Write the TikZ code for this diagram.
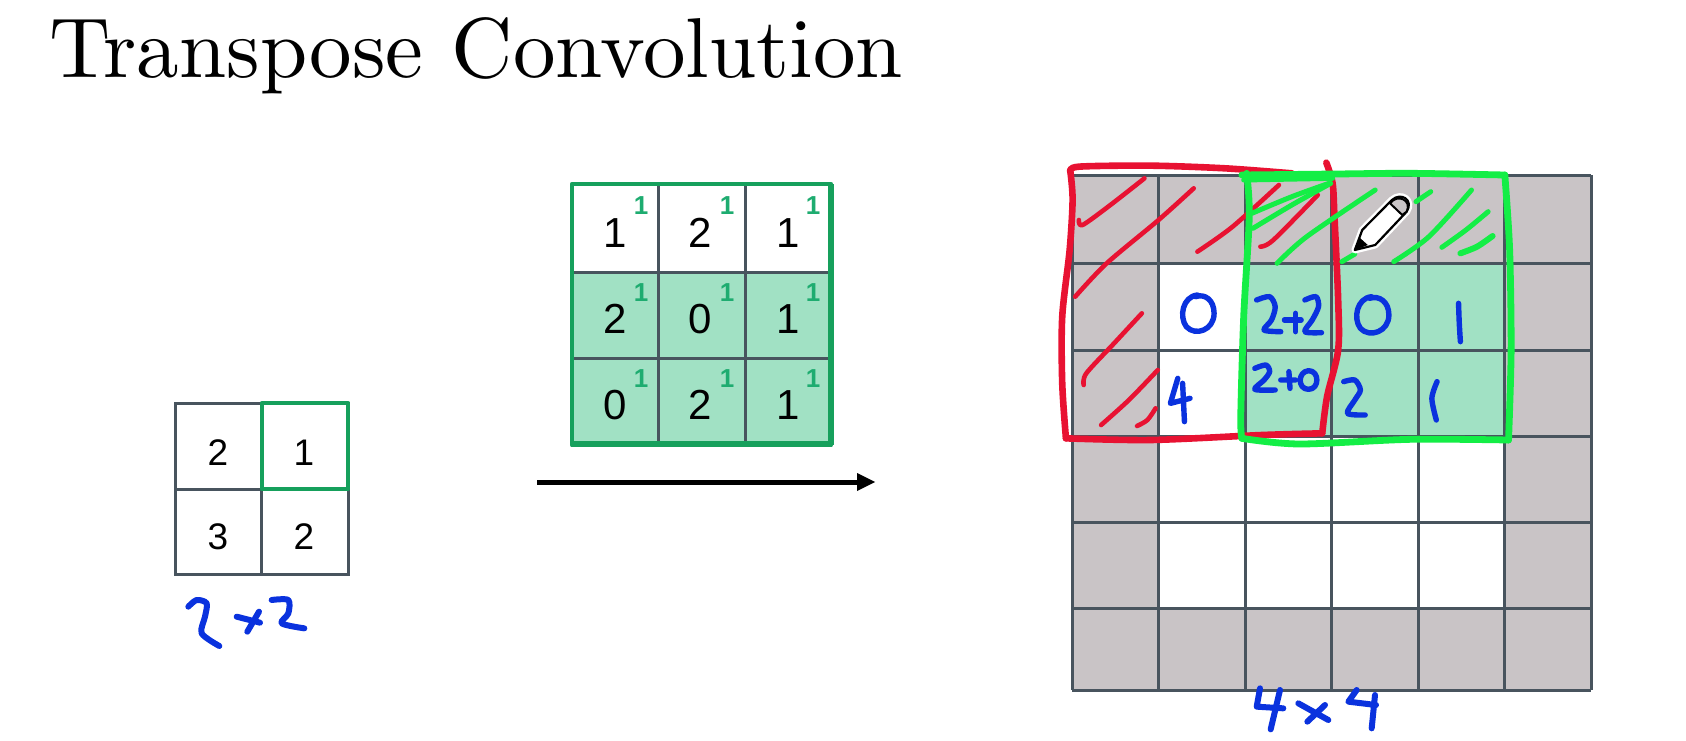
\documentclass[tikz,border=0pt]{standalone}
\usepackage{fontspec}
\setmainfont{Latin Modern Roman}
\newfontfamily\titlef{lmroman10-regular}[Extension=.otf]
\newfontfamily\arialf{Liberation Sans}
\definecolor{gridc}{RGB}{72,84,94}
\definecolor{greyc}{RGB}{201,196,198}
\definecolor{tealc}{RGB}{161,225,196}
\definecolor{boxg}{RGB}{22,160,92}
\definecolor{smallg}{RGB}{30,172,112}
\definecolor{inkb}{RGB}{10,50,222}
\definecolor{inkr}{RGB}{232,18,50}
\definecolor{inkg}{RGB}{20,238,70}
\tikzset{
  x=1pt,y=-1pt,
  gridline/.style={draw=gridc,line width=3pt},
  ink/.style={line width=#1,line cap=round,line join=round},
  blueink/.style={ink=5.4pt,draw=inkb},
  redink/.style={ink=4.6pt,draw=inkr},
  greenink/.style={ink=5pt,draw=inkg},
  bigd/.style={font=\arialf\fontsize{42}{42}\selectfont,text=black,inner sep=0pt},
  midd/.style={font=\arialf\fontsize{37}{37}\selectfont,text=black,inner sep=0pt},
  smalld/.style={font=\arialf\bfseries\fontsize{26}{26}\selectfont,text=smallg,inner sep=0pt},
  zoomA/.style={shift={(1040,150)},x=0.37037pt,y=-0.33333pt},
  zoomT/.style={x=0.33333pt,y=-0.33333pt},
}
\begin{document}
\begin{tikzpicture}
\useasboundingbox (0,0) rectangle (1686,741);
\fill[white] (0,0) rectangle (1686,741);
\node[anchor=base west,inner sep=0pt,font=\titlef\fontsize{85}{90}\selectfont] (title) at (49,78) {Transpose Convolution};

% left 2x2 grid
\draw[gridline] (175,403) rectangle (348,574);
\draw[gridline] (261,403) -- (261,574);
\draw[gridline] (175,489) -- (348,489);
\draw[draw=boxg,line width=4.8pt,line join=round] (262,403) rectangle (348,489);
\node[midd] (a1) at (218,453) {2};
\node[midd] (a2) at (304,453) {1};
\node[midd] (a3) at (218,537) {3};
\node[midd] (a4) at (304,537) {2};

% middle 3x3 kernel
\fill[tealc] (572,272) rectangle (832,445);
\draw[gridline] (658.5,184) -- (658.5,445) (745,184) -- (745,445) (572,272) -- (832,272) (572,358.5) -- (832,358.5);
\draw[draw=boxg,line width=4.4pt,line join=round] (572,184) rectangle (831,445);
\draw[draw=boxg,line width=6pt] (571,444) -- (832,444);
\draw[draw=boxg,line width=5.5pt] (831,184) -- (831,445);
\node[bigd] (k11) at (615,233) {1};
\node[bigd] (k12) at (700,233) {2};
\node[bigd] (k13) at (788,233) {1};
\node[bigd] (k21) at (615,319) {2};
\node[bigd] (k22) at (700,319) {0};
\node[bigd] (k23) at (788,319) {1};
\node[bigd] (k31) at (615,405) {0};
\node[bigd] (k32) at (700,405) {2};
\node[bigd] (k33) at (788,405) {1};
\foreach \nx/\cx in {a/641,b/727,c/813}{
  \foreach \ny/\cy in {a/206,b/293,c/379}{
    \node[smalld] (s\nx\ny) at (\cx,\cy) {1};
  }
}

% arrow
\coordinate (arrS) at (537,482);
\coordinate (arrE) at (875,482);
\draw[line width=5pt] (arrS) -- (860,482);
\fill (arrE) -- (857,473) -- (857,491) -- cycle;

% right grid
\fill[greyc] (1072,175) rectangle (1591,690);
\fill[white] (1158.5,263) rectangle (1504.5,608.5);
\fill[tealc] (1245,263) rectangle (1504.5,436.5);
\foreach \gx in {1072,1158.5,1245,1331.5,1418,1504.5,1591}{\draw[gridline] (\gx,175) -- (\gx,690);}
\foreach \gy in {175,263,350,436.5,522.5,608.5,690}{\draw[gridline] (1072,\gy) -- (1591,\gy);}

\begin{scope}[zoomA]
% red hatches
\draw[redink] plot[smooth] coordinates {(105,210) (115,225) (190,165) (282,85)};
\draw[redink] plot[smooth] coordinates {(95,440) (180,340) (320,210) (415,115)};
\draw[redink] plot[smooth] coordinates {(425,305) (520,230) (645,105)};
\draw[redink] plot[smooth] coordinates {(595,290) (630,270) (750,135)};
\draw[redink] plot[smooth] coordinates {(275,490) (200,580) (125,670) (118,705)};
\draw[redink] plot[smooth] coordinates {(165,825) (240,750) (318,660)};
\draw[redink] plot[smooth] coordinates {(262,828) (290,810) (312,775)};
% red outline, side by side
\begin{scope}[redink,line width=6.6pt]
\draw plot[smooth] coordinates {(680,70) (500,55) (300,47) (105,50) (82,65)};
\draw plot[smooth] coordinates {(82,65) (88,150) (80,300) (60,500) (60,700) (70,865)};
\draw plot[smooth] coordinates {(70,865) (300,870) (600,855) (762,850)};
\draw plot[smooth] coordinates {(762,850) (775,740) (805,600) (805,450) (795,200) (790,100) (773,38)};
\end{scope}
% green hatches
\draw[greenink] plot[smooth] coordinates {(575,235) (680,165) (785,100)};
\draw[greenink] plot[smooth] coordinates {(572,190) (680,140) (780,100)};
\draw[greenink] plot[smooth] coordinates {(640,340) (720,260) (905,120)};
\draw[greenink] plot[smooth] coordinates {(815,335) (850,312)};
\draw[greenink] plot[smooth] coordinates {(1015,155) (1055,125)};
\draw[greenink] plot[smooth] coordinates {(955,335) (1050,260) (1165,120)};
\draw[greenink] plot[smooth] coordinates {(1085,292) (1150,240) (1210,185)};
\draw[greenink,line width=6pt] plot[smooth] coordinates {(1135,310) (1180,290) (1222,258)};
% green outline, side by side
\begin{scope}[greenink,line width=6.8pt]
\draw plot[smooth] coordinates {(545,75) (800,72) (1000,70) (1255,75)};
\draw plot[smooth] coordinates {(1255,75) (1268,300) (1272,600) (1265,870)};
\draw plot[smooth] coordinates {(1265,870) (1000,868) (700,882) (545,865)};
\draw plot[smooth] coordinates {(545,865) (542,800) (550,500) (565,200) (558,70)};
\draw[line width=5pt] (550,90) -- (790,85);
\end{scope}
% blue writing
\draw[blueink] (425,435) .. controls (385,440) and (375,500) .. (395,530) .. controls (420,560) and (470,540) .. (470,490) .. controls (470,450) and (445,430) .. (420,440);
\draw[blueink] plot[smooth] coordinates {(585,450) (620,440) (635,470) (625,510) (605,540) (650,545)};
\draw[blueink] (660,510) -- (705,510) (690,490) -- (690,545);
\draw[blueink] plot[smooth] coordinates {(715,450) (745,440) (752,470) (735,510) (715,545) (760,548)};
\draw[blueink] (895,440) .. controls (855,445) and (845,505) .. (865,535) .. controls (890,565) and (942,545) .. (942,495) .. controls (942,455) and (915,435) .. (890,445);
\draw[blueink] plot[smooth] coordinates {(1130,460) (1132,520) (1135,575)};
\draw[blueink] plot[smooth] coordinates {(580,655) (610,645) (620,665) (605,690) (580,718) (635,720)};
\draw[blueink] (650,690) -- (690,690) (672,665) -- (675,715);
\draw[blueink] (725,662) .. controls (695,665) and (695,718) .. (725,718) .. controls (755,718) and (755,662) .. (725,662);
\draw[blueink] (372,685) -- (352,760) -- (405,745) (385,700) -- (390,815);
\draw[blueink] plot[smooth] coordinates {(820,695) (850,690) (865,720) (850,750) (830,790) (878,795)};
\draw[blueink] plot[smooth] coordinates {(1072,695) (1058,745) (1070,810)};
% pencil cursor
\path[draw=white,line width=7pt,line join=round,fill=white] (850,300) -- (870,240) -- (950,150) .. controls (975,125) and (1010,150) .. (990,185) -- (905,285) -- cycle;
\draw[draw=black,line width=2.2pt,line join=round,fill=white] (850,300) -- (870,240) -- (950,150) .. controls (975,125) and (1010,150) .. (990,185) -- (905,285) -- cycle;
\fill[black] (850,300) -- (862,262) -- (885,285) -- cycle;
\draw[black,line width=2pt,fill=greyc] (945,160) .. controls (965,130) and (1005,150) .. (990,185) -- (978,195) -- cycle;
\end{scope}

% 2 x 2 label
\begin{scope}[shift={(160,390)},zoomT]
\draw[blueink,line width=6pt] plot[smooth] coordinates {(85,650) (110,630) (140,640) (135,680) (125,730) (178,768)};
\draw[blueink,line width=6pt] (230,680) -- (300,698) (297,665) -- (262,725);
\draw[blueink,line width=6pt] plot[smooth] coordinates {(335,630) (385,630) (385,670) (365,700) (433,715)};
\end{scope}

% 4 x 4 label
\begin{scope}[shift={(1220,670)},zoomT]
\draw[blueink,line width=6pt] (120,55) -- (110,110) -- (190,115) (180,60) -- (152,178);
\draw[blueink,line width=6pt] (235,100) -- (325,150) (315,105) -- (262,155);
\draw[blueink,line width=6pt] (410,60) -- (385,95) -- (468,105) (465,75) -- (455,175);
\end{scope}
\end{tikzpicture}
\end{document}
